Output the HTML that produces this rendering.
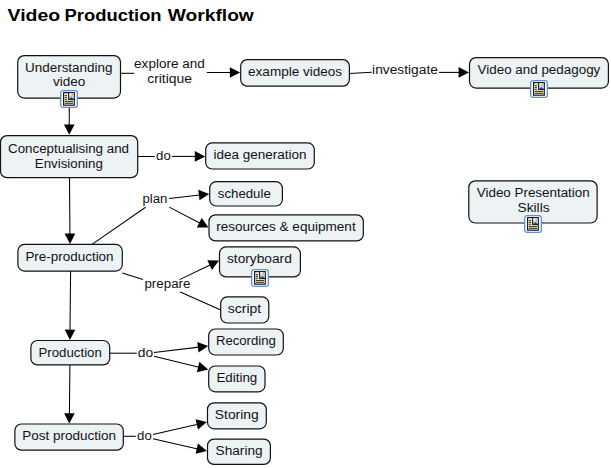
<!DOCTYPE html><html><head><meta charset="utf-8"><style>html,body{margin:0;padding:0;background:#fff;width:611px;height:468px;overflow:hidden}svg{display:block}text{font-family:"Liberation Sans",sans-serif;fill:#111}</style></head><body>
<svg width="611" height="468" viewBox="0 0 611 468">
<text x="7.6" y="21" font-size="16" font-weight="bold" textLength="52.6" lengthAdjust="spacingAndGlyphs" style="fill:#000">Video</text>
<text x="64.6" y="21" font-size="16" font-weight="bold" textLength="97.0" lengthAdjust="spacingAndGlyphs" style="fill:#000">Production</text>
<text x="167.8" y="21" font-size="16" font-weight="bold" textLength="86.0" lengthAdjust="spacingAndGlyphs" style="fill:#000">Workflow</text>
<g stroke="#000" stroke-width="1.05" fill="none"><line x1="120.5" y1="73.3" x2="134" y2="73.3"/><line x1="349.4" y1="73.6" x2="371.8" y2="72.3"/><line x1="137.7" y1="156.5" x2="154.8" y2="156.5"/><line x1="92" y1="244.4" x2="145.6" y2="207.2"/><line x1="122.3" y1="273" x2="143" y2="279.6"/><line x1="180.2" y1="292" x2="220.7" y2="310"/><line x1="109.7" y1="353.2" x2="136.8" y2="353.2"/><line x1="123.3" y1="436.3" x2="135.8" y2="436.3"/><line x1="206.8" y1="72.5" x2="230.80" y2="72.50"/><line x1="439" y1="72.4" x2="459.60" y2="72.40"/><line x1="69.3" y1="107.7" x2="69.23" y2="125.40"/><line x1="172" y1="156.4" x2="195.80" y2="156.40"/><line x1="69.5" y1="177.7" x2="69.93" y2="234.50"/><line x1="169" y1="198.6" x2="199.86" y2="194.99"/><line x1="169.2" y1="207.1" x2="200.16" y2="223.17"/><line x1="179.6" y1="279.6" x2="210.53" y2="264.68"/><line x1="70.6" y1="271.1" x2="70.00" y2="330.60"/><line x1="154" y1="352.5" x2="198.87" y2="347.12"/><line x1="154" y1="356.2" x2="199.07" y2="367.26"/><line x1="69.9" y1="364.9" x2="69.40" y2="414.20"/><line x1="153" y1="434.6" x2="197.75" y2="424.14"/><line x1="153" y1="438.7" x2="197.74" y2="448.91"/></g>
<g fill="#000"><polygon points="240.20,72.50 229.80,77.80 229.80,67.20"/><polygon points="469.00,72.40 458.60,77.70 458.60,67.10"/><polygon points="69.20,134.80 63.94,124.38 74.54,124.42"/><polygon points="205.20,156.40 194.80,161.70 194.80,151.10"/><polygon points="70.00,243.90 64.62,233.54 75.22,233.46"/><polygon points="209.20,193.90 199.49,200.37 198.25,189.84"/><polygon points="208.50,227.50 196.83,227.41 201.71,218.00"/><polygon points="219.00,260.60 211.93,269.89 207.33,260.34"/><polygon points="69.90,340.00 64.71,329.55 75.31,329.65"/><polygon points="208.20,346.00 198.51,352.50 197.24,341.98"/><polygon points="208.20,369.50 196.84,372.17 199.36,361.87"/><polygon points="69.30,423.60 64.11,413.15 74.71,413.25"/><polygon points="206.90,422.00 197.98,429.53 195.57,419.21"/><polygon points="206.90,451.00 195.58,453.85 197.94,443.52"/></g>
<text x="134.1" y="67.8" font-size="12.5" textLength="70.7" lengthAdjust="spacingAndGlyphs">explore and</text>
<text x="147.2" y="82.5" font-size="12.5" textLength="44.8" lengthAdjust="spacingAndGlyphs">critique</text>
<text x="372.1" y="74.4" font-size="12.5" textLength="65.8" lengthAdjust="spacingAndGlyphs">investigate</text>
<text x="156.1" y="160.3" font-size="12.5" textLength="14.7" lengthAdjust="spacingAndGlyphs">do</text>
<text x="142.4" y="202.7" font-size="12.5" textLength="25.0" lengthAdjust="spacingAndGlyphs">plan</text>
<text x="144.4" y="287.7" font-size="12.5" textLength="46.1" lengthAdjust="spacingAndGlyphs">prepare</text>
<text x="137.8" y="356.6" font-size="12.5" textLength="15.4" lengthAdjust="spacingAndGlyphs">do</text>
<text x="137.1" y="439.9" font-size="12.5" textLength="14.7" lengthAdjust="spacingAndGlyphs">do</text>
<rect x="17.7" y="55.6" width="102.8" height="42.5" rx="6.5" fill="#edf2f5" stroke="#111" stroke-width="1.2"/>
<text x="25.0" y="71.8" font-size="12.5" textLength="87.5" lengthAdjust="spacingAndGlyphs">Understanding</text>
<text x="52.9" y="86.3" font-size="12.5" textLength="32.3" lengthAdjust="spacingAndGlyphs">video</text>
<g transform="translate(60,90)">
<rect x="0.65" y="0.65" width="16.7" height="16.7" rx="2.4" fill="#fff" stroke="#5f90d4" stroke-width="1.3"/>
<rect x="3.6" y="2.6" width="10.7" height="12.6" fill="#fcf6d0" stroke="#161b3c" stroke-width="1.2"/>
<rect x="9.1" y="3.2" width="4.6" height="5.9" fill="#b8cbef"/>
<rect x="9.1" y="3.2" width="2.4" height="2.6" fill="#eeeefa"/>
<circle cx="12.7" cy="4.6" r="1.3" fill="#eeae78"/>
<path d="M9.4 9.1 L11.4 6.9 L13.4 9.1 Z" fill="#2b6a45"/>
<path d="M8.6 3 L8.6 9.4 L14.2 9.4" fill="none" stroke="#161b3c" stroke-width="1.1"/>
<g stroke="#35300f" stroke-width="1.1"><line x1="4.8" y1="5.5" x2="6.9" y2="5.5"/><line x1="4.8" y1="7.4" x2="6.9" y2="7.4"/><line x1="4.8" y1="9.3" x2="6.9" y2="9.3"/><line x1="4.8" y1="11.4" x2="13" y2="11.4"/><line x1="4.8" y1="13.3" x2="13" y2="13.3"/></g>
</g>
<rect x="240.7" y="59.6" width="108.7" height="26.6" rx="6.5" fill="#edf2f5" stroke="#111" stroke-width="1.2"/>
<text x="248.1" y="75.8" font-size="12.5" textLength="93.9" lengthAdjust="spacingAndGlyphs">example videos</text>
<rect x="469.5" y="57.6" width="138.9" height="30.5" rx="6.5" fill="#edf2f5" stroke="#111" stroke-width="1.2"/>
<text x="477.6" y="74" font-size="12.5" textLength="122.7" lengthAdjust="spacingAndGlyphs">Video and pedagogy</text>
<g transform="translate(530,80)">
<rect x="0.65" y="0.65" width="16.7" height="16.7" rx="2.4" fill="#fff" stroke="#5f90d4" stroke-width="1.3"/>
<rect x="3.6" y="2.6" width="10.7" height="12.6" fill="#fcf6d0" stroke="#161b3c" stroke-width="1.2"/>
<rect x="9.1" y="3.2" width="4.6" height="5.9" fill="#b8cbef"/>
<rect x="9.1" y="3.2" width="2.4" height="2.6" fill="#eeeefa"/>
<circle cx="12.7" cy="4.6" r="1.3" fill="#eeae78"/>
<path d="M9.4 9.1 L11.4 6.9 L13.4 9.1 Z" fill="#2b6a45"/>
<path d="M8.6 3 L8.6 9.4 L14.2 9.4" fill="none" stroke="#161b3c" stroke-width="1.1"/>
<g stroke="#35300f" stroke-width="1.1"><line x1="4.8" y1="5.5" x2="6.9" y2="5.5"/><line x1="4.8" y1="7.4" x2="6.9" y2="7.4"/><line x1="4.8" y1="9.3" x2="6.9" y2="9.3"/><line x1="4.8" y1="11.4" x2="13" y2="11.4"/><line x1="4.8" y1="13.3" x2="13" y2="13.3"/></g>
</g>
<rect x="0.5" y="135.6" width="137.2" height="42.1" rx="6.5" fill="#edf2f5" stroke="#111" stroke-width="1.2"/>
<text x="8.0" y="153" font-size="12.5" textLength="121.0" lengthAdjust="spacingAndGlyphs">Conceptualising and</text>
<text x="34.8" y="168" font-size="12.5" textLength="68.1" lengthAdjust="spacingAndGlyphs">Envisioning</text>
<rect x="205.7" y="142.9" width="108.6" height="26.1" rx="6.5" fill="#edf2f5" stroke="#111" stroke-width="1.2"/>
<text x="213.4" y="158.8" font-size="12.5" textLength="93.1" lengthAdjust="spacingAndGlyphs">idea generation</text>
<rect x="209.7" y="181.7" width="72.7" height="24.3" rx="6.5" fill="#edf2f5" stroke="#111" stroke-width="1.2"/>
<text x="217.8" y="197.9" font-size="12.5" textLength="53.0" lengthAdjust="spacingAndGlyphs">schedule</text>
<rect x="209" y="214.8" width="154.3" height="26.1" rx="6.5" fill="#edf2f5" stroke="#111" stroke-width="1.2"/>
<text x="216.2" y="230.8" font-size="12.5" textLength="139.5" lengthAdjust="spacingAndGlyphs">resources &amp; equipment</text>
<rect x="468.8" y="180.8" width="128.3" height="42.2" rx="6.5" fill="#edf2f5" stroke="#111" stroke-width="1.2"/>
<text x="476.8" y="196.7" font-size="12.5" textLength="112.9" lengthAdjust="spacingAndGlyphs">Video Presentation</text>
<text x="517.5" y="211.5" font-size="12.5" textLength="32.1" lengthAdjust="spacingAndGlyphs">Skills</text>
<g transform="translate(524,215)">
<rect x="0.65" y="0.65" width="16.7" height="16.7" rx="2.4" fill="#fff" stroke="#5f90d4" stroke-width="1.3"/>
<rect x="3.6" y="2.6" width="10.7" height="12.6" fill="#fcf6d0" stroke="#161b3c" stroke-width="1.2"/>
<rect x="9.1" y="3.2" width="4.6" height="5.9" fill="#b8cbef"/>
<rect x="9.1" y="3.2" width="2.4" height="2.6" fill="#eeeefa"/>
<circle cx="12.7" cy="4.6" r="1.3" fill="#eeae78"/>
<path d="M9.4 9.1 L11.4 6.9 L13.4 9.1 Z" fill="#2b6a45"/>
<path d="M8.6 3 L8.6 9.4 L14.2 9.4" fill="none" stroke="#161b3c" stroke-width="1.1"/>
<g stroke="#35300f" stroke-width="1.1"><line x1="4.8" y1="5.5" x2="6.9" y2="5.5"/><line x1="4.8" y1="7.4" x2="6.9" y2="7.4"/><line x1="4.8" y1="9.3" x2="6.9" y2="9.3"/><line x1="4.8" y1="11.4" x2="13" y2="11.4"/><line x1="4.8" y1="13.3" x2="13" y2="13.3"/></g>
</g>
<rect x="17.9" y="244.4" width="104.4" height="26.7" rx="6.5" fill="#edf2f5" stroke="#111" stroke-width="1.2"/>
<text x="25.4" y="260.6" font-size="12.5" textLength="88.2" lengthAdjust="spacingAndGlyphs">Pre-production</text>
<rect x="219.5" y="246.9" width="80.9" height="30.0" rx="6.5" fill="#edf2f5" stroke="#111" stroke-width="1.2"/>
<text x="227.0" y="262.9" font-size="12.5" textLength="64.8" lengthAdjust="spacingAndGlyphs">storyboard</text>
<g transform="translate(251,269)">
<rect x="0.65" y="0.65" width="16.7" height="16.7" rx="2.4" fill="#fff" stroke="#5f90d4" stroke-width="1.3"/>
<rect x="3.6" y="2.6" width="10.7" height="12.6" fill="#fcf6d0" stroke="#161b3c" stroke-width="1.2"/>
<rect x="9.1" y="3.2" width="4.6" height="5.9" fill="#b8cbef"/>
<rect x="9.1" y="3.2" width="2.4" height="2.6" fill="#eeeefa"/>
<circle cx="12.7" cy="4.6" r="1.3" fill="#eeae78"/>
<path d="M9.4 9.1 L11.4 6.9 L13.4 9.1 Z" fill="#2b6a45"/>
<path d="M8.6 3 L8.6 9.4 L14.2 9.4" fill="none" stroke="#161b3c" stroke-width="1.1"/>
<g stroke="#35300f" stroke-width="1.1"><line x1="4.8" y1="5.5" x2="6.9" y2="5.5"/><line x1="4.8" y1="7.4" x2="6.9" y2="7.4"/><line x1="4.8" y1="9.3" x2="6.9" y2="9.3"/><line x1="4.8" y1="11.4" x2="13" y2="11.4"/><line x1="4.8" y1="13.3" x2="13" y2="13.3"/></g>
</g>
<rect x="220.7" y="296.9" width="48.1" height="26.1" rx="6.5" fill="#edf2f5" stroke="#111" stroke-width="1.2"/>
<text x="227.8" y="312.6" font-size="12.5" textLength="33.4" lengthAdjust="spacingAndGlyphs">script</text>
<rect x="30.9" y="340.5" width="78.8" height="24.4" rx="6.5" fill="#edf2f5" stroke="#111" stroke-width="1.2"/>
<text x="38.5" y="356.7" font-size="12.5" textLength="63.3" lengthAdjust="spacingAndGlyphs">Production</text>
<rect x="208.7" y="329" width="74.6" height="26.0" rx="6.5" fill="#edf2f5" stroke="#111" stroke-width="1.2"/>
<text x="215.9" y="344.8" font-size="12.5" textLength="59.9" lengthAdjust="spacingAndGlyphs">Recording</text>
<rect x="208.7" y="366" width="56.3" height="25.8" rx="6.5" fill="#edf2f5" stroke="#111" stroke-width="1.2"/>
<text x="216.4" y="381.5" font-size="12.5" textLength="40.9" lengthAdjust="spacingAndGlyphs">Editing</text>
<rect x="14.9" y="424" width="108.4" height="26.2" rx="6.5" fill="#edf2f5" stroke="#111" stroke-width="1.2"/>
<text x="22.2" y="440.4" font-size="12.5" textLength="93.8" lengthAdjust="spacingAndGlyphs">Post production</text>
<rect x="207.5" y="402.8" width="58.8" height="26.0" rx="6.5" fill="#edf2f5" stroke="#111" stroke-width="1.2"/>
<text x="214.8" y="418.7" font-size="12.5" textLength="43.9" lengthAdjust="spacingAndGlyphs">Storing</text>
<rect x="207.5" y="439.1" width="62.9" height="25.3" rx="6.5" fill="#edf2f5" stroke="#111" stroke-width="1.2"/>
<text x="215.6" y="455" font-size="12.5" textLength="47.0" lengthAdjust="spacingAndGlyphs">Sharing</text>
</svg></body></html>
